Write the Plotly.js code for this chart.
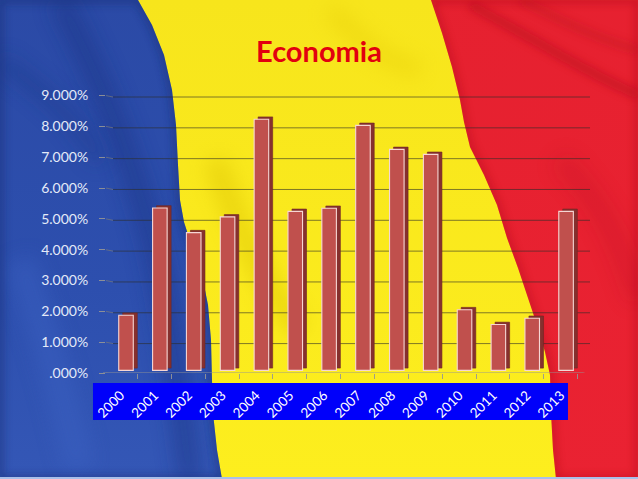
<!DOCTYPE html>
<html>
<head>
<meta charset="utf-8">
<script src="https://cdn.plot.ly/plotly-3.0.1.min.js"></script>
<style>
  html, body { margin: 0; padding: 0; }
  body { width: 638px; height: 479px; overflow: hidden; background-repeat: no-repeat; background-size: 638px 479px; }
  #chart { width: 638px; height: 479px; }
</style>
</head>
<body>
<div id="chart"></div>
<script>
// ---- data ----
const years = ['2000','2001','2002','2003','2004','2005','2006','2007','2008','2009','2010','2011','2012','2013'];
const growth = [1.79, 5.27, 4.47, 4.98, 8.15, 5.16, 5.26, 7.95, 7.17, 7.01, 1.97, 1.49, 1.69, 5.16];
const yTickValues = [0, 1, 2, 3, 4, 5, 6, 7, 8, 9];
const yTickLabels = ['.000%', '1.000%', '2.000%', '3.000%', '4.000%', '5.000%', '6.000%', '7.000%', '8.000%', '9.000%'];
const chartTitle = 'Economia';

// ---- flag background (decoration) ----
const bluePts = [[0,0],[138,0],[152,25],[164,55],[172,90],[176,125],[178,165],[180,200],[184,222],[193,250],[203,280],[208,305],[211,340],[212,380],[213,413],[217,450],[222,479],[0,479]];
const redPts = [[431,0],[442,33],[452,67],[460,100],[464,122],[470,147],[484,175],[497,205],[507,238],[518,268],[528,298],[537,325],[545,352],[550,375],[551,413],[553,450],[556,479],[638,479],[638,0]];
function poly(p){ return 'M' + p.map(q => q.join(',')).join(' L') + ' Z'; }
const svg = `<svg xmlns="http://www.w3.org/2000/svg" width="638" height="479" viewBox="0 0 638 479">
<defs>
<filter id="b1" x="-50%" y="-50%" width="200%" height="200%"><feGaussianBlur stdDeviation="10"/></filter>
<filter id="b2" x="-50%" y="-50%" width="200%" height="200%"><feGaussianBlur stdDeviation="4"/></filter>
<linearGradient id="gb" x1="0" y1="0" x2="0" y2="1"><stop offset="0" stop-color="#2b4aa6"/><stop offset="0.6" stop-color="#2d4fae"/><stop offset="1" stop-color="#3457b6"/></linearGradient>
<linearGradient id="gy" x1="0" y1="0" x2="0" y2="1"><stop offset="0" stop-color="#f7e51c"/><stop offset="1" stop-color="#fdee1e"/></linearGradient>
<linearGradient id="gr" x1="0" y1="0" x2="1" y2="1"><stop offset="0" stop-color="#e3202e"/><stop offset="1" stop-color="#ea2232"/></linearGradient>
<clipPath id="cb"><path d="${poly(bluePts)}"/></clipPath>
<clipPath id="cr"><path d="${poly(redPts)}"/></clipPath>
</defs>
<rect width="638" height="479" fill="url(#gy)"/>
<path d="M215,160 C235,220 260,280 300,330" stroke="#d9bf00" stroke-width="22" fill="none" opacity="0.45" filter="url(#b1)"/>
<path d="M330,10 C360,40 380,60 420,70" stroke="#e0c400" stroke-width="16" fill="none" opacity="0.35" filter="url(#b1)"/>
<g clip-path="url(#cb)">
<rect width="638" height="479" fill="url(#gb)"/>
<path d="M60,0 C90,60 120,120 150,230 C165,290 175,360 190,479" stroke="#1c3686" stroke-width="22" fill="none" opacity="0.55" filter="url(#b1)"/>
<path d="M0,60 C40,90 70,110 100,160" stroke="#1d3888" stroke-width="14" fill="none" opacity="0.5" filter="url(#b1)"/>
<path d="M20,260 C40,320 60,380 80,470" stroke="#3d63c4" stroke-width="30" fill="none" opacity="0.45" filter="url(#b1)"/>
<path d="${poly(bluePts)}" stroke="#142c70" stroke-width="6" fill="none" opacity="0.6" filter="url(#b2)"/>
</g>
<g clip-path="url(#cr)">
<rect width="638" height="479" fill="url(#gr)"/>
<path d="M470,5 C520,30 580,70 638,95" stroke="#b5111f" stroke-width="8" fill="none" opacity="0.6" filter="url(#b2)"/>
<path d="M520,0 C560,20 600,40 638,50" stroke="#b8121f" stroke-width="6" fill="none" opacity="0.5" filter="url(#b2)"/>
<path d="M560,160 C600,200 620,240 638,300" stroke="#c01525" stroke-width="18" fill="none" opacity="0.35" filter="url(#b1)"/>
<path d="${poly(redPts)}" stroke="#a80c18" stroke-width="6" fill="none" opacity="0.45" filter="url(#b2)"/>
</g>
<rect x="0" y="477" width="638" height="2" fill="#a8c0ea"/>
</svg>`;
document.body.style.backgroundImage = 'url("data:image/svg+xml,' + encodeURIComponent(svg) + '")';

// ---- 3D-ish geometry constants (styling) ----
const barW = 0.43;          // front face width (category units)
const sideShift = 0.118;    // depth shift to the right
const topShift = 0.075;     // depth shift upwards (value units)
const frontOff = 0.084;     // front axis below bar floor (value units)
const backOff = 0.13;       // back wall above bar floor (value units)
const backX0 = 7 / 484;     // back wall starts right of front axis
const frontX1 = 477 / 484;  // front edge ends left of back wall
const xRange = [-0.591, 13.707];
const frontShiftX = 0.16;   // front edge (labels/ticks) sits left of bar centres

const idx = years.map((_, i) => i);

const sideTrace = {
  type: 'bar', x: years, y: growth,
  base: growth.map(() => topShift),
  width: barW, offset: -barW / 2 + sideShift,
  marker: { color: '#86302e', line: { color: '#6e2624', width: 0.6 } },
  hoverinfo: 'skip', showlegend: false
};
const frontTrace = {
  type: 'bar', x: years, y: growth,
  width: barW, offset: -barW / 2,
  marker: { color: '#c0504d', line: { color: '#f6d6d4', width: 1.1 } },
  showlegend: false
};
const labelAxisTrace = { type: 'scatter', x: [], y: [], xaxis: 'x2', yaxis: 'y', hoverinfo: 'skip', showlegend: false };
const tickAxisTrace = { type: 'scatter', x: [], y: [], xaxis: 'x3', yaxis: 'y', hoverinfo: 'skip', showlegend: false };

const shapes = [];
// blue band behind x tick labels
shapes.push({ type: 'rect', xref: 'paper', yref: 'paper', x0: -0.0269, x1: 0.9545, y0: -0.168, y1: -0.0357,
  fillcolor: '#0000fa', line: { width: 0 }, layer: 'below' });
// floor
shapes.push({ type: 'path', xref: 'paper', yref: 'y',
  path: `M 0,${-frontOff} L ${frontX1},${-frontOff} L 1,${-backOff} L ${backX0},${-backOff} Z`,
  fillcolor: 'rgba(45,45,25,0.28)', line: { width: 0 }, layer: 'below' });
// back wall gridlines + diagonal connectors
yTickValues.forEach(v => {
  shapes.push({ type: 'line', xref: 'paper', yref: 'y', x0: backX0, x1: 1, y0: v - backOff, y1: v - backOff,
    line: { color: 'rgba(45,45,40,0.6)', width: 1 }, layer: 'below' });
  shapes.push({ type: 'line', xref: 'paper', yref: 'y', x0: 0, x1: backX0, y0: v - frontOff, y1: v - backOff,
    line: { color: 'rgba(120,120,120,0.7)', width: 1 }, layer: 'below' });
});
// front axis line and right diagonal
shapes.push({ type: 'line', xref: 'paper', yref: 'y', x0: -0.006, x1: frontX1, y0: -frontOff, y1: -frontOff,
  line: { color: 'rgba(150,150,150,0.9)', width: 1 }, layer: 'below' });
shapes.push({ type: 'line', xref: 'paper', yref: 'y', x0: frontX1, x1: 1, y0: -frontOff, y1: -backOff,
  line: { color: 'rgba(150,150,150,0.9)', width: 1 }, layer: 'below' });

const tickFontFamily = 'Lato, "Open Sans", sans-serif';

const layout = {
  width: 638, height: 479,
  margin: { l: 106, r: 48, t: 93, b: 106, pad: 0 },
  paper_bgcolor: 'rgba(0,0,0,0)', plot_bgcolor: 'rgba(0,0,0,0)',
  barmode: 'overlay',
  title: {
    text: chartTitle, x: 0.5, xanchor: 'center', xref: 'container',
    y: 1 - 52 / 479, yanchor: 'middle', yref: 'container',
    font: { family: tickFontFamily, size: 29, color: '#e2000f', weight: 'bold' }
  },
  xaxis: {
    type: 'category', range: xRange,
    showgrid: false, zeroline: false, showline: false,
    ticks: '', showticklabels: false
  },
  xaxis2: {
    overlaying: 'x', anchor: 'y', side: 'bottom',
    range: [xRange[0] + frontShiftX, xRange[1] + frontShiftX],
    showgrid: false, zeroline: false, showline: false,
    tickmode: 'array', tickvals: idx, ticktext: years,
    ticks: '', tickangle: -45, ticklabelstandoff: 11,
    tickfont: { family: tickFontFamily, size: 13.5, color: '#ffffff' }
  },
  xaxis3: {
    overlaying: 'x', anchor: 'y', side: 'bottom',
    range: [xRange[0] + frontShiftX, xRange[1] + frontShiftX],
    showgrid: false, zeroline: false, showline: false,
    tickmode: 'array', tickvals: idx.concat([years.length]).map(i => i - 0.5),
    showticklabels: false,
    ticks: 'outside', ticklen: 5, tickcolor: 'rgba(150,150,150,0.9)', tickwidth: 1
  },
  yaxis: {
    range: [-frontOff, 9.0], fixedrange: true,
    showgrid: false, zeroline: false, showline: false,
    tickmode: 'array',
    tickvals: yTickValues.map(v => v - frontOff),
    ticktext: yTickLabels,
    ticks: 'outside', ticklen: 6, tickcolor: 'rgba(150,150,150,0.9)', tickwidth: 1,
    ticklabelstandoff: 8,
    tickfont: { family: tickFontFamily, size: 14, color: '#e4eaf8' }
  },
  shapes: shapes
};

Plotly.newPlot('chart', [sideTrace, frontTrace, labelAxisTrace, tickAxisTrace], layout, { displayModeBar: false, staticPlot: true });
</script>
</body>
</html>
